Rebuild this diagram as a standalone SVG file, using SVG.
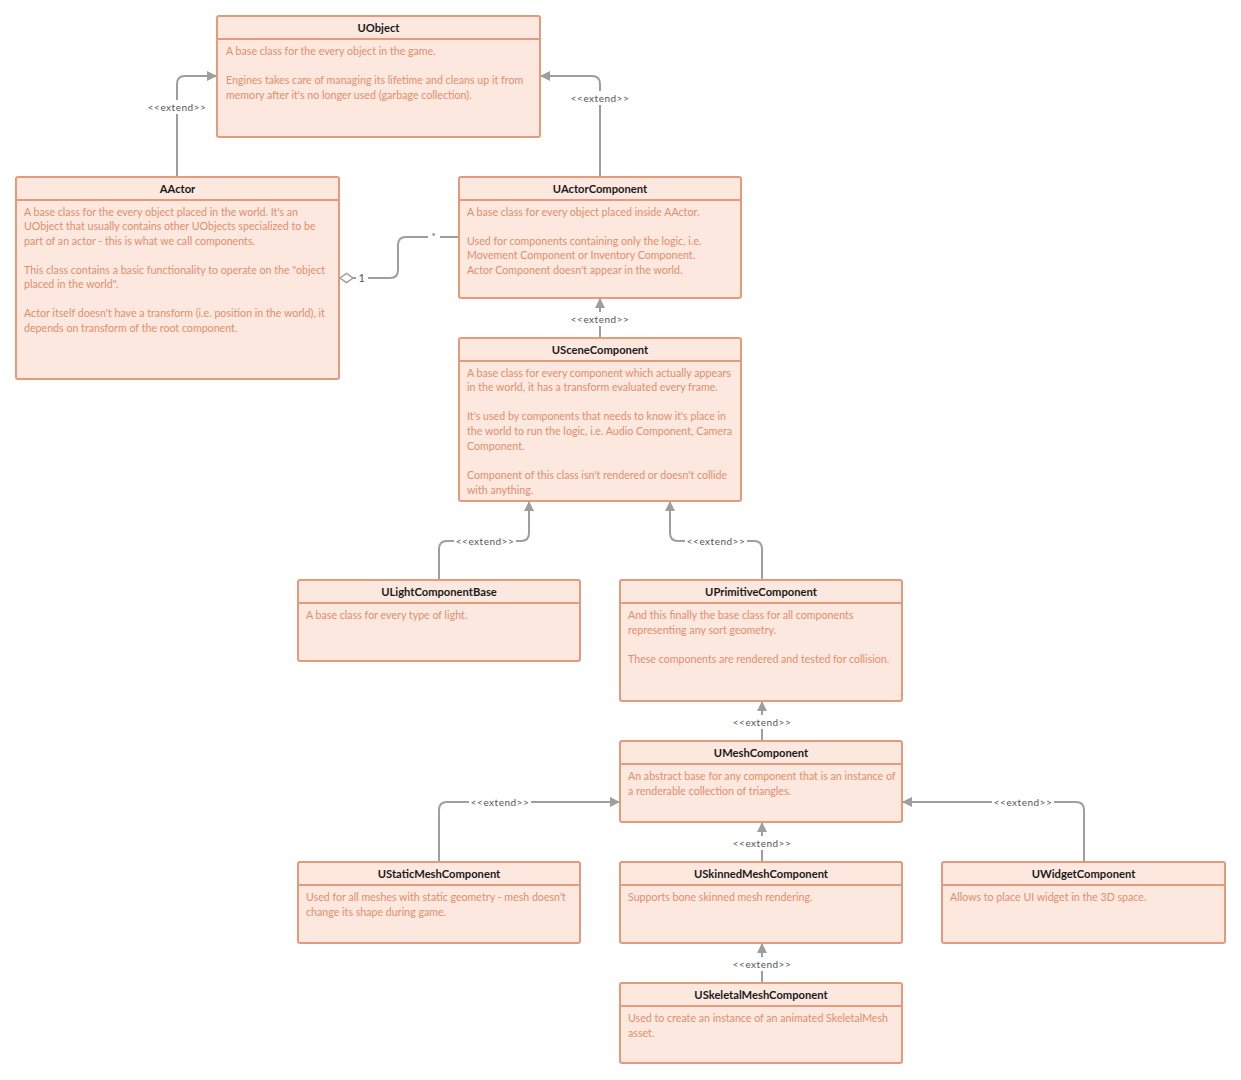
<svg xmlns="http://www.w3.org/2000/svg" width="1241" height="1080" viewBox="0 0 1241 1080">
<defs>
<style>
.box{fill:#fde8df;stroke:#e39b7b;stroke-width:2}
.hl{stroke:#e39b7b;stroke-width:2}
.t{font-family:Lato,"Liberation Sans",sans-serif;font-size:11.2px;font-weight:bold;fill:#1a1a1a;text-anchor:middle}
.b{font-family:Lato,"Liberation Sans",sans-serif;font-size:10.65px;fill:#e08f6b}
.c{fill:none;stroke:#9e9e9e;stroke-width:2}
.lb{font-family:Lato,"Liberation Sans",sans-serif;font-size:10px;fill:#555;text-anchor:middle;letter-spacing:0.5px}
.bg{fill:#fff}
</style>
<marker id="ar" viewBox="0 0 10 10" refX="9" refY="5" markerWidth="10" markerHeight="10" markerUnits="userSpaceOnUse" orient="auto">
<path d="M0,0 L10,5 L0,10 z" fill="#9e9e9e"/>
</marker>
</defs>
<rect width="1241" height="1080" fill="#fff"/>

<g id="connectors">
<path class="c" d="M177,177 V84 Q177,76 185,76 H216" marker-end="url(#ar)"/>
<path class="c" d="M600,177 V84 Q600,76 592,76 H541" marker-end="url(#ar)"/>
<path class="c" d="M353,278 H390 Q398,278 398,270 V245 Q398,237 406,237 H459"/>
<path d="M340,278 L346.5,273.5 L353,278 L346.5,282.5 z" fill="#fff" stroke="#9e9e9e" stroke-width="1.5"/>
<path class="c" d="M600,338 V299" marker-end="url(#ar)"/>
<path class="c" d="M439,580 V549 Q439,541 447,541 H521 Q529,541 529,533 V502" marker-end="url(#ar)"/>
<path class="c" d="M762,580 V549 Q762,541 754,541 H678 Q670,541 670,533 V502" marker-end="url(#ar)"/>
<path class="c" d="M762,741 V702" marker-end="url(#ar)"/>
<path class="c" d="M439,862 V810 Q439,802 447,802 H619" marker-end="url(#ar)"/>
<path class="c" d="M762,862 V823" marker-end="url(#ar)"/>
<path class="c" d="M1084,862 V810 Q1084,802 1076,802 H903" marker-end="url(#ar)"/>
<path class="c" d="M762,983 V944" marker-end="url(#ar)"/>
<rect class="bg" x="146" y="100" width="62" height="14"/>
<text class="lb" x="177" y="111">&lt;&lt;extend&gt;&gt;</text>
<rect class="bg" x="569" y="91" width="62" height="14"/>
<text class="lb" x="600" y="102">&lt;&lt;extend&gt;&gt;</text>
<rect class="bg" x="569" y="312" width="62" height="14"/>
<text class="lb" x="600" y="323">&lt;&lt;extend&gt;&gt;</text>
<rect class="bg" x="454" y="534" width="62" height="14"/>
<text class="lb" x="485" y="545">&lt;&lt;extend&gt;&gt;</text>
<rect class="bg" x="685" y="534" width="62" height="14"/>
<text class="lb" x="716" y="545">&lt;&lt;extend&gt;&gt;</text>
<rect class="bg" x="731" y="715" width="62" height="14"/>
<text class="lb" x="762" y="726">&lt;&lt;extend&gt;&gt;</text>
<rect class="bg" x="469" y="795" width="62" height="14"/>
<text class="lb" x="500" y="806">&lt;&lt;extend&gt;&gt;</text>
<rect class="bg" x="731" y="836" width="62" height="14"/>
<text class="lb" x="762" y="847">&lt;&lt;extend&gt;&gt;</text>
<rect class="bg" x="992" y="795" width="62" height="14"/>
<text class="lb" x="1023" y="806">&lt;&lt;extend&gt;&gt;</text>
<rect class="bg" x="731" y="957" width="62" height="14"/>
<text class="lb" x="762" y="968">&lt;&lt;extend&gt;&gt;</text>
<rect class="bg" x="356" y="271" width="12" height="14"/>
<text class="lb" x="362" y="282" style="font-size:11px">1</text>
<rect class="bg" x="428" y="230" width="12" height="14"/>
<text class="lb" x="434" y="240">*</text>
</g>

<g id="UObject">
<rect class="box" x="217" y="16" width="323" height="121" rx="2"/>
<line class="hl" x1="217" y1="39" x2="540" y2="39"/>
<text class="t" x="378.5" y="32">UObject</text>
<text class="b" x="226"><tspan x="226" y="55">A base class for the every object in the game.</tspan><tspan x="226" y="84">Engines takes care of managing its lifetime and cleans up it from</tspan><tspan x="226" y="99">memory after it's no longer used (garbage collection).</tspan></text>
</g>

<g id="AActor">
<rect class="box" x="16" y="177" width="323" height="202" rx="2"/>
<line class="hl" x1="16" y1="200" x2="339" y2="200"/>
<text class="t" x="177.5" y="193">AActor</text>
<text class="b"><tspan x="24" y="216">A base class for the every object placed in the world. It's an</tspan><tspan x="24" y="230">UObject that usually contains other UObjects specialized to be</tspan><tspan x="24" y="245">part of an actor - this is what we call components.</tspan><tspan x="24" y="274">This class contains a basic functionality to operate on the "object</tspan><tspan x="24" y="288">placed in the world".</tspan><tspan x="24" y="317">Actor itself doesn't have a transform (i.e. position in the world), it</tspan><tspan x="24" y="332">depends on transform of the root component.</tspan></text>
</g>

<g id="UActorComponent">
<rect class="box" x="459" y="177" width="282" height="121" rx="2"/>
<line class="hl" x1="459" y1="200" x2="741" y2="200"/>
<text class="t" x="600" y="193">UActorComponent</text>
<text class="b"><tspan x="467" y="216">A base class for every object placed inside AActor.</tspan><tspan x="467" y="245">Used for components containing only the logic, i.e.</tspan><tspan x="467" y="259">Movement Component or Inventory Component.</tspan><tspan x="467" y="274">Actor Component doesn't appear in the world.</tspan></text>
</g>

<g id="USceneComponent">
<rect class="box" x="459" y="338" width="282" height="163" rx="2"/>
<line class="hl" x1="459" y1="361" x2="741" y2="361"/>
<text class="t" x="600" y="354">USceneComponent</text>
<text class="b"><tspan x="467" y="377">A base class for every component which actually appears</tspan><tspan x="467" y="391">in the world, it has a transform evaluated every frame.</tspan><tspan x="467" y="420">It's used by components that needs to know it's place in</tspan><tspan x="467" y="435">the world to run the logic, i.e. Audio Component, Camera</tspan><tspan x="467" y="450">Component.</tspan><tspan x="467" y="479">Component of this class isn't rendered or doesn't collide</tspan><tspan x="467" y="494">with anything.</tspan></text>
</g>

<g id="ULightComponentBase">
<rect class="box" x="298" y="580" width="282" height="81" rx="2"/>
<line class="hl" x1="298" y1="603" x2="580" y2="603"/>
<text class="t" x="439" y="596">ULightComponentBase</text>
<text class="b"><tspan x="306" y="619">A base class for every type of light.</tspan></text>
</g>

<g id="UPrimitiveComponent">
<rect class="box" x="620" y="580" width="282" height="121" rx="2"/>
<line class="hl" x1="620" y1="603" x2="902" y2="603"/>
<text class="t" x="761" y="596">UPrimitiveComponent</text>
<text class="b"><tspan x="628" y="619">And this finally the base class for all components</tspan><tspan x="628" y="634">representing any sort geometry.</tspan><tspan x="628" y="663">These components are rendered and tested for collision.</tspan></text>
</g>

<g id="UMeshComponent">
<rect class="box" x="620" y="741" width="282" height="81" rx="2"/>
<line class="hl" x1="620" y1="764" x2="902" y2="764"/>
<text class="t" x="761" y="757">UMeshComponent</text>
<text class="b"><tspan x="628" y="780">An abstract base for any component that is an instance of</tspan><tspan x="628" y="795">a renderable collection of triangles.</tspan></text>
</g>

<g id="UStaticMeshComponent">
<rect class="box" x="298" y="862" width="282" height="81" rx="2"/>
<line class="hl" x1="298" y1="885" x2="580" y2="885"/>
<text class="t" x="439" y="878">UStaticMeshComponent</text>
<text class="b"><tspan x="306" y="901">Used for all meshes with static geometry - mesh doesn't</tspan><tspan x="306" y="916">change its shape during game.</tspan></text>
</g>

<g id="USkinnedMeshComponent">
<rect class="box" x="620" y="862" width="282" height="81" rx="2"/>
<line class="hl" x1="620" y1="885" x2="902" y2="885"/>
<text class="t" x="761" y="878">USkinnedMeshComponent</text>
<text class="b"><tspan x="628" y="901">Supports bone skinned mesh rendering.</tspan></text>
</g>

<g id="UWidgetComponent">
<rect class="box" x="942" y="862" width="283" height="81" rx="2"/>
<line class="hl" x1="942" y1="885" x2="1225" y2="885"/>
<text class="t" x="1083.5" y="878">UWidgetComponent</text>
<text class="b"><tspan x="950" y="901">Allows to place UI widget in the 3D space.</tspan></text>
</g>

<g id="USkeletalMeshComponent">
<rect class="box" x="620" y="983" width="282" height="80" rx="2"/>
<line class="hl" x1="620" y1="1006" x2="902" y2="1006"/>
<text class="t" x="761" y="999">USkeletalMeshComponent</text>
<text class="b"><tspan x="628" y="1022">Used to create an instance of an animated SkeletalMesh</tspan><tspan x="628" y="1037">asset.</tspan></text>
</g>
</svg>
